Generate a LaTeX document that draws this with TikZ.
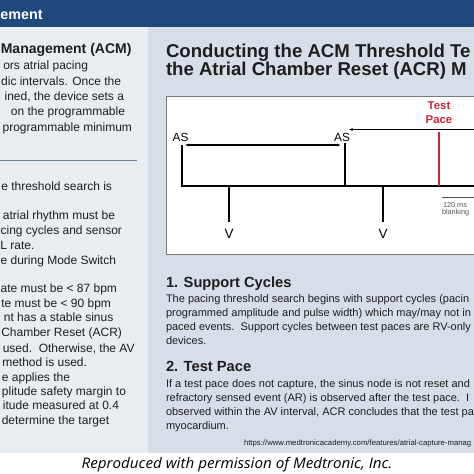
\documentclass[tikz,border=0pt]{standalone}
\usepackage{fontspec}
\setmainfont{Liberation Sans}
\newfontfamily\capfont[FakeStretch=1.04]{Open Sans}
\usetikzlibrary{arrows.meta}
\definecolor{barblue}{HTML}{1F497D}
\definecolor{leftbg}{HTML}{E8EDF2}
\definecolor{rightbg}{HTML}{D6DEE7}
\definecolor{txtc}{HTML}{1E1E1E}
\definecolor{sepc}{HTML}{6E8299}
\definecolor{pacered}{HTML}{C8283C}
\definecolor{boxborder}{HTML}{7A7A7A}
\definecolor{blankc}{HTML}{555555}
\begin{document}
\begin{tikzpicture}[x=1pt,y=-1pt,
  every node/.style={inner sep=0pt, outer sep=0pt},
  ltxt/.style={anchor=mid east, yshift=-3pt, font=\fontsize{12}{15}\selectfont, text=txtc},
  rtxt/.style={anchor=mid west, yshift=-3pt, font=\fontsize{11}{14}\selectfont, text=txtc},
  rhead/.style={anchor=mid west, yshift=-4pt, font=\bfseries\fontsize{14.7}{17}\selectfont, text=txtc},
  ttl/.style={anchor=mid west, yshift=-5pt, font=\bfseries\fontsize{18.6}{18}\selectfont, text=txtc},
  ecg/.style={line width=1.7pt, black},
  ivl/.style={line width=1.2pt, black},
  tip/.style={-{Latex[length=3.5pt,width=3pt]}},
  evlabel/.style={font=\fontsize{11.8}{13}\selectfont, text=black},
  vlabel/.style={font=\fontsize{13.5}{15}\selectfont, text=black},
  pacelabel/.style={font=\bfseries\fontsize{11.4}{13}\selectfont, text=pacered},
  blank/.style={anchor=mid west, font=\fontsize{7.3}{8}\selectfont, text=blankc}
]
\useasboundingbox (0,0) rectangle (474,474);
\clip (0,0) rectangle (474,474);
% backgrounds
\fill[white] (0,0) rectangle (474,474);
\fill[barblue] (0,0) rectangle (474,26.5);
\fill[leftbg] (0,26.5) rectangle (148,453);
\fill[rightbg] (148,26.5) rectangle (474,453);
\node[anchor=mid east, yshift=-3pt, font=\bfseries\fontsize{14.3}{16}\selectfont, text=white] (hdr) at (42.6,14) {ement};

% left panel
\node[anchor=mid east, yshift=-3pt, font=\bfseries\fontsize{14}{16}\selectfont, text=txtc] (ltitle) at (131.5,48) {Management (ACM)};
\node[ltxt] (l1) at (88,64) {ors atrial pacing};
\node[ltxt] (l2) at (121,80) {dic intervals. Once the};
\node[ltxt] (l3) at (124,95) {ined, the device sets a};
\node[ltxt] (l4) at (125,110) {on the programmable};
\node[ltxt] (l5) at (132,126) {programmable minimum};
\coordinate (sepA) at (0,160.7);
\coordinate (sepB) at (137,160.7);
\draw[sepc, line width=1pt] (sepA) -- (sepB);
\node[ltxt] (l6) at (112,185) {e threshold search is};
\node[ltxt] (l7) at (115,214) {atrial rhythm must be};
\node[ltxt] (l8) at (122,229) {cing cycles and sensor};
\node[ltxt] (l9) at (34.5,244) {L rate.};
\node[ltxt] (l10) at (116,259) {e during Mode Switch};
\node[ltxt] (l11) at (117,287) {ate must be < 87 bpm};
\node[ltxt] (l12) at (111,302) {te must be < 90 bpm};
\node[ltxt] (l13) at (113.3,316) {nt has a stable sinus};
\node[ltxt] (l14) at (122,331) {Chamber Reset (ACR)};
\node[ltxt] (l15) at (134.6,347) {used.\ \ Otherwise, the AV};
\node[ltxt] (l16) at (87,361) {method is used.};
\node[ltxt] (l17) at (70,376) {e applies the};
\node[ltxt] (l18) at (126,390) {plitude safety margin to};
\node[ltxt] (l19) at (119,404) {itude measured at 0.4};
\node[ltxt] (l20) at (109.2,419) {determine the target};

% right panel title
\node[ttl] (t1) at (166,50) {Conducting the ACM Threshold Te};
\node[ttl] (t2) at (166,68) {the Atrial Chamber Reset (ACR) M};

% diagram box
\draw[boxborder, fill=white, line width=0.9pt] (166.7,96) rectangle (490,254);
\coordinate (base0) at (181,186);
\coordinate (base1) at (480,186);
\draw[ecg] (base0) -- (base1);
% AS events
\coordinate (as1t) at (181.7,145);
\coordinate (as1b) at (181.7,186);
\coordinate (as2t) at (345,143);
\coordinate (as2b) at (345,186);
\draw[ecg] (as1t) -- (as1b);
\draw[ecg] (as2t) -- (as2b);
\node[evlabel] (as1) at (180.5,137.7) {AS};
\node[evlabel] (as2) at (342,137.7) {AS};
% intervals
\coordinate (ia) at (185,145);
\coordinate (ib) at (340.7,145);
\draw[ivl, {Latex[length=3.5pt,width=3pt]}-{Latex[length=3.5pt,width=3pt]}] (ia) -- (ib);
\coordinate (ic) at (349,129.5);
\coordinate (id) at (480,129.5);
\draw[ivl, tip] (id) -- (ic);
% V events
\coordinate (v1t) at (229,186);
\coordinate (v1b) at (229,222);
\coordinate (v2t) at (383,186);
\coordinate (v2b) at (383,222);
\draw[ecg] (v1t) -- (v1b);
\draw[ecg] (v2t) -- (v2b);
\node[vlabel] (v1) at (229,233.5) {V};
\node[vlabel] (v2) at (383,233.5) {V};
% test pace
\coordinate (tpt) at (439,131.5);
\coordinate (tpb) at (439,186);
\draw[pacered, line width=1.7pt] (tpt) -- (tpb);
\node[pacelabel] (tp1) at (439,105.7) {Test};
\node[pacelabel] (tp2) at (439,120) {Pace};
% blanking
\coordinate (bk0) at (441.7,197.5);
\coordinate (bk1) at (480,197.5);
\draw[blankc, line width=0.7pt, -{Latex[length=2.5pt,width=2pt]}] (bk1) -- (bk0);
\node[blank] (bk2) at (443,205) {120 ms};
\node[blank] (bk3) at (442,212) {blanking};

% sections
\node[rhead] (h1) at (166,281) {1. Support Cycles};
\node[rtxt] (s1) at (166,297) {The pacing threshold search begins with support cycles (pacin};
\node[rtxt] (s2) at (166,311) {programmed amplitude and pulse width) which may/may not in};
\node[rtxt] (s3) at (166,325) {paced events.\ \ Support cycles between test paces are RV-only};
\node[rtxt] (s4) at (166,339) {devices.};
\node[rhead] (h2) at (166,365) {2. Test Pace};
\node[rtxt] (p1) at (166,382) {If a test pace does not capture, the sinus node is not reset and};
\node[rtxt] (p2) at (166,396) {refractory sensed event (AR) is observed after the test pace.\ \ I};
\node[rtxt] (p3) at (166,410) {observed within the AV interval, ACR concludes that the test pa};
\node[rtxt] (p4) at (166,424) {myocardium.};
\node[anchor=mid west, yshift=-2pt, font=\fontsize{7.75}{9}\selectfont, text=txtc] (url) at (244,441) {https://www.medtronicacademy.com/features/atrial-capture-manag};

% caption
\node[font=\capfont\itshape\fontsize{14.6}{16}\selectfont, text=black] (cap) at (237,464.5) {Reproduced with permission of Medtronic, Inc.};
\end{tikzpicture}
\end{document}
